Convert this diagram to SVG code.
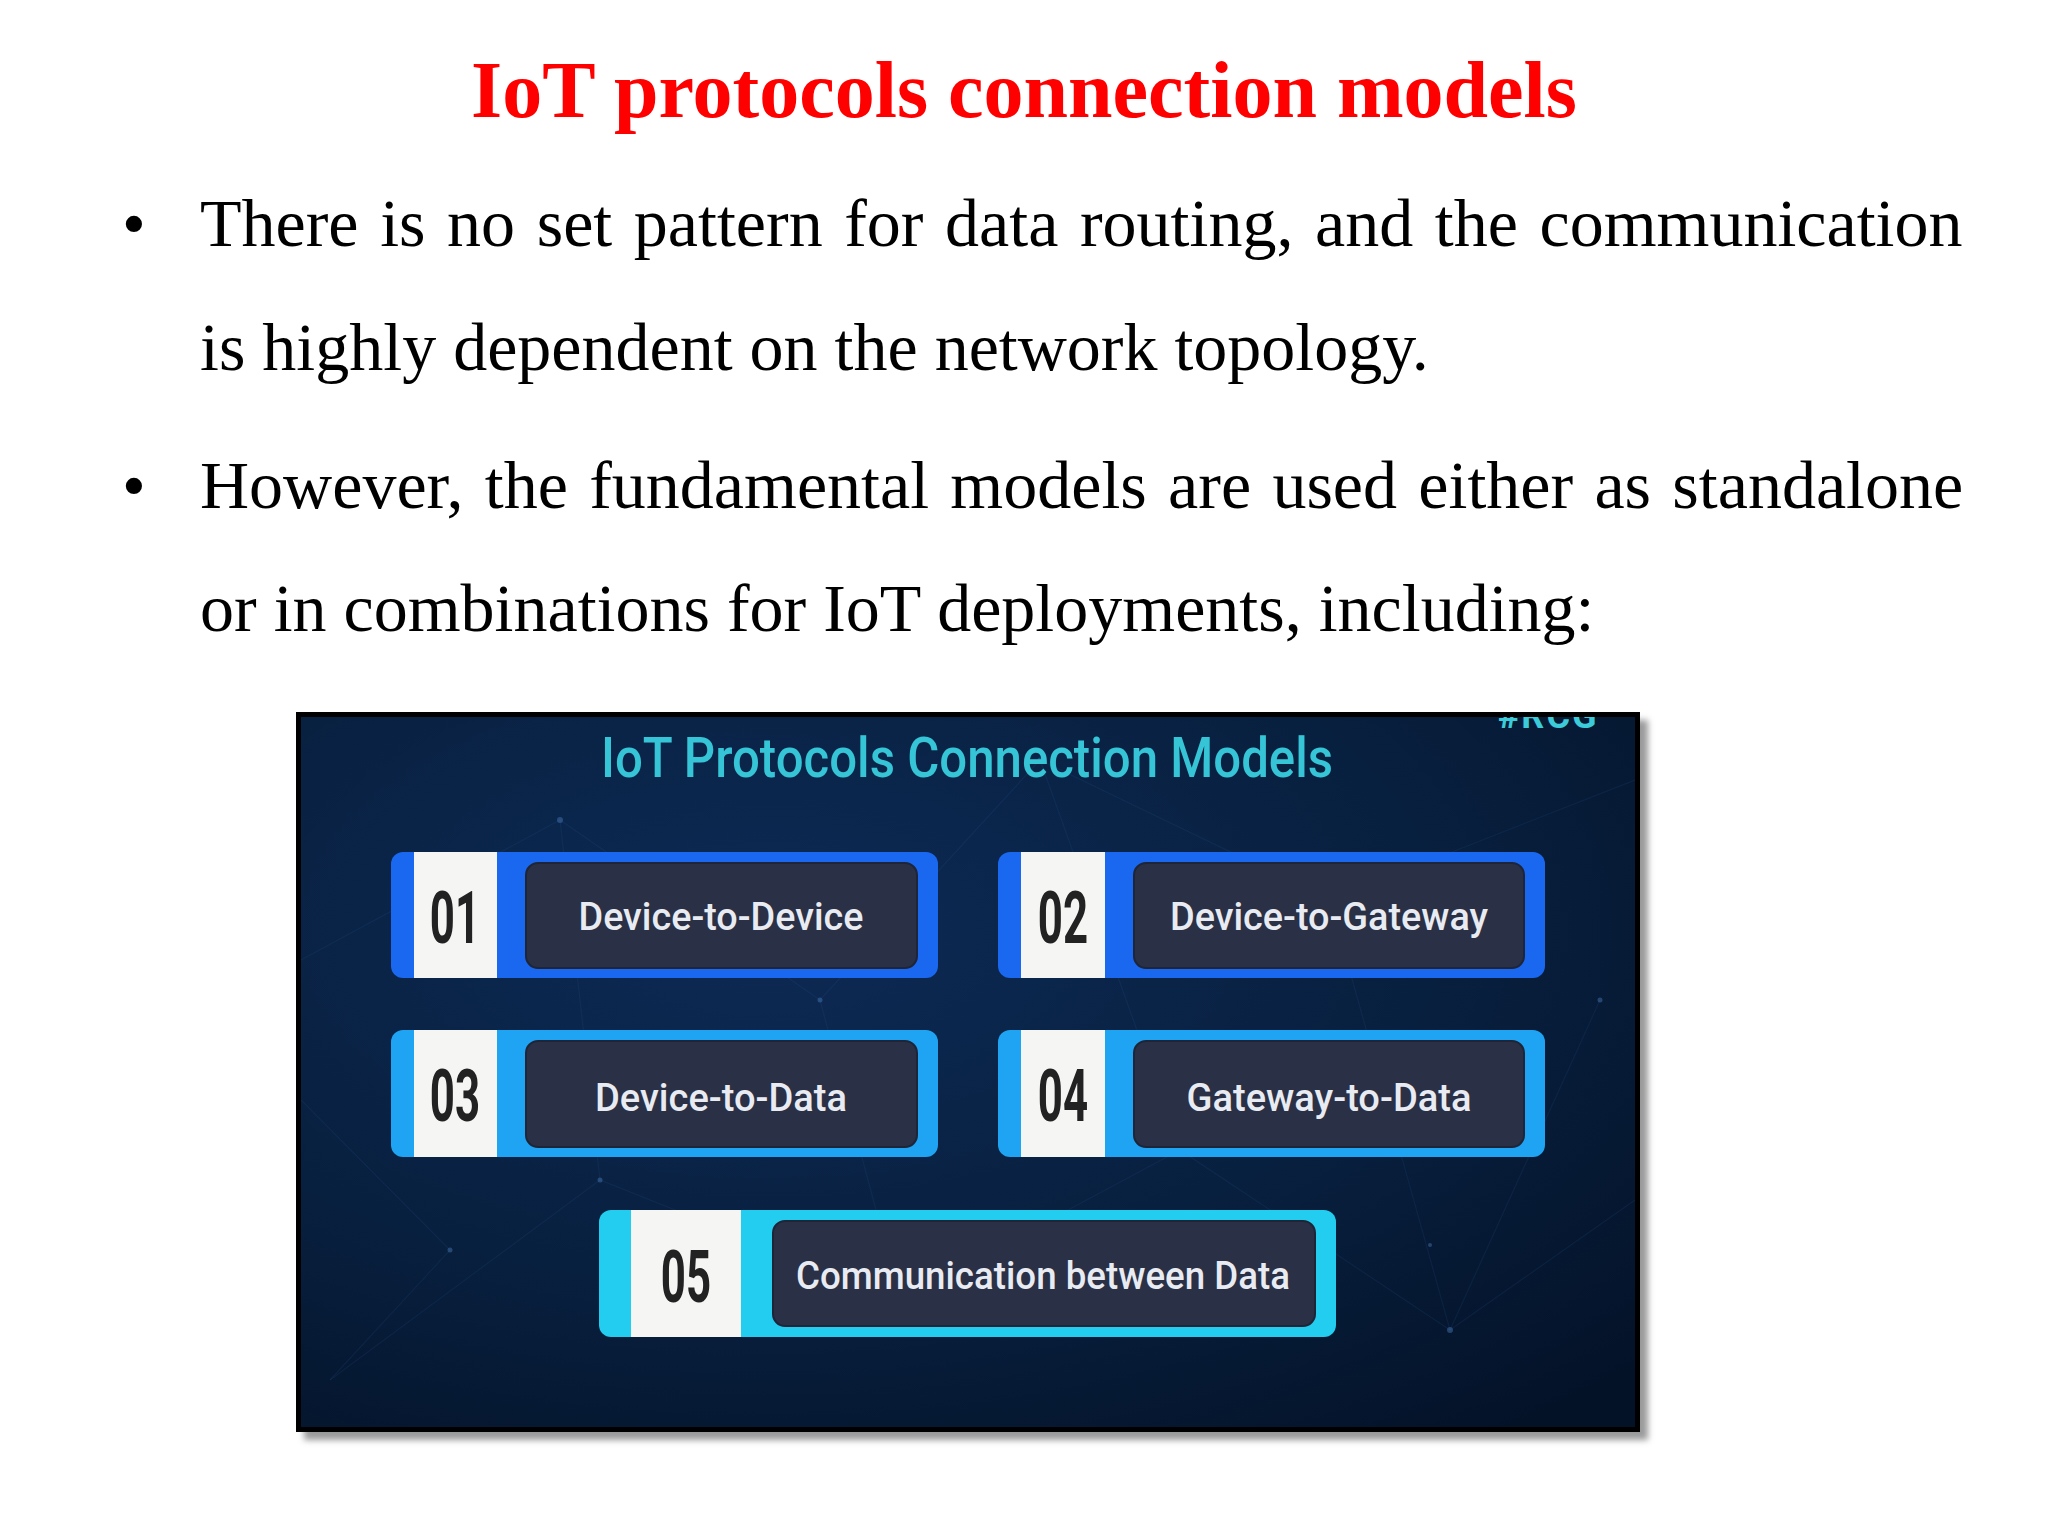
<svg xmlns="http://www.w3.org/2000/svg" width="2048" height="1536" viewBox="0 0 2048 1536">
  <style>
    .title { font-family: "Liberation Serif", "Times New Roman", serif; font-weight: bold; font-size: 80px; fill: #FF0000; }
    .body { font-family: "Liberation Serif", "Times New Roman", serif; font-size: 68px; fill: #000; }
    .ptitle { font-family: Roboto, "Liberation Sans", sans-serif; font-weight: 500; font-size: 56px; fill: #35c5d7; }
    .num { font-family: Roboto, "Liberation Sans", sans-serif; font-weight: 700; font-size: 73px; fill: #222; }
    .lbl { font-family: Roboto, "Liberation Sans", sans-serif; font-weight: 500; font-size: 39px; fill: #e8ebf1; }
    .white { fill: #f5f5f3; }
    .inner { fill: #2a3045; stroke: #1f2538; stroke-width: 2; }
    .net { stroke: #2d5590; stroke-width: 1.2; opacity: 0.16; fill: none; }
    .dot { fill: #4a7ab8; opacity: 0.45; }
  </style>
  <defs>
    <radialGradient id="bg" cx="0.35" cy="0.3" r="0.9">
      <stop offset="0" stop-color="#0d2a55"/>
      <stop offset="0.55" stop-color="#08203f"/>
      <stop offset="1" stop-color="#041228"/>
    </radialGradient>
    <filter id="sh" x="-5%" y="-5%" width="110%" height="110%">
      <feGaussianBlur stdDeviation="3"/>
    </filter>
    <clipPath id="panelClip">
      <rect x="301" y="717" width="1334" height="710"/>
    </clipPath>
    <clipPath id="tagClip">
      <rect x="1480" y="717" width="140" height="14"/>
    </clipPath>
  </defs>

  <rect width="2048" height="1536" fill="#ffffff"/>

  <!-- Heading and bullets -->
  <g id="heading">
    <text class="title" x="1024" y="117" text-anchor="middle">IoT protocols connection models</text>
  </g>
  <g id="bullets">
    <text class="body" x="122" y="246">•</text>
    <text class="body" x="200" y="246" word-spacing="4.6">There is no set pattern for data routing, and the communication</text>
    <text class="body" x="200" y="370">is highly dependent on the network topology.</text>
    <text class="body" x="122" y="508">•</text>
    <text class="body" x="200" y="508" word-spacing="4.3">However, the fundamental models are used either as standalone</text>
    <text class="body" x="200" y="631">or in combinations for IoT deployments, including:</text>
  </g>

  <!-- Picture panel -->
  <g id="panel">
    <rect x="304" y="720" width="1344" height="720" fill="#9a9a9a" filter="url(#sh)"/>
    <rect x="296" y="712" width="1344" height="720" fill="#000"/>
    <rect x="301" y="717" width="1334" height="710" fill="url(#bg)"/>
    <g clip-path="url(#panelClip)">
      <path class="net" d="M301 960 L560 820 L820 1000 L1040 760 L1330 900 L1635 780"/>
      <path class="net" d="M330 1380 L600 1180 L900 1300 L1180 1150 L1450 1330 L1635 1200"/>
      <path class="net" d="M560 820 L600 1180 M820 1000 L900 1300 M1040 760 L1180 1150 M1330 900 L1450 1330"/>
      <path class="net" d="M301 1100 L450 1250 L330 1380 M1600 1000 L1450 1330"/>
      <circle class="dot" cx="560" cy="820" r="3"/>
      <circle class="dot" cx="820" cy="1000" r="2.5"/>
      <circle class="dot" cx="1040" cy="760" r="2.5"/>
      <circle class="dot" cx="1330" cy="900" r="3"/>
      <circle class="dot" cx="600" cy="1180" r="2.5"/>
      <circle class="dot" cx="900" cy="1300" r="2"/>
      <circle class="dot" cx="1180" cy="1150" r="2.5"/>
      <circle class="dot" cx="1450" cy="1330" r="3"/>
      <circle class="dot" cx="450" cy="1250" r="2.5"/>
      <circle class="dot" cx="1600" cy="1000" r="2.5"/>
      <circle class="dot" cx="1430" cy="1245" r="2"/>
      <circle class="dot" cx="420" cy="1035" r="2"/>
      <text x="1498" y="728" clip-path="url(#tagClip)" font-family="Roboto, 'Liberation Sans', sans-serif" font-weight="700" font-size="36" letter-spacing="2" fill="#3ccbd8">#RCG</text>
    </g>
    <text class="ptitle" x="967" y="777" text-anchor="middle" textLength="732" lengthAdjust="spacingAndGlyphs">IoT Protocols Connection Models</text>
  </g>

  <g id="connectors"/>

  <g id="node-01">
    <rect x="391" y="852" width="547" height="126" rx="12" fill="#1a68f0"/>
    <rect class="white" x="414" y="852" width="83" height="126"/>
    <rect class="inner" x="526" y="863" width="391" height="105" rx="12"/>
    <text class="num" transform="translate(455,943) scale(0.6,1)" text-anchor="middle">01</text>
    <text class="lbl" x="721" y="930" text-anchor="middle" textLength="285" lengthAdjust="spacingAndGlyphs">Device-to-Device</text>
  </g>

  <g id="node-02">
    <rect x="998" y="852" width="547" height="126" rx="12" fill="#1a68f0"/>
    <rect class="white" x="1021" y="852" width="84" height="126"/>
    <rect class="inner" x="1134" y="863" width="390" height="105" rx="12"/>
    <text class="num" transform="translate(1063,943) scale(0.6,1)" text-anchor="middle">02</text>
    <text class="lbl" x="1329" y="930" text-anchor="middle" textLength="318" lengthAdjust="spacingAndGlyphs">Device-to-Gateway</text>
  </g>

  <g id="node-03">
    <rect x="391" y="1030" width="547" height="127" rx="12" fill="#1ea4f2"/>
    <rect class="white" x="414" y="1030" width="83" height="127"/>
    <rect class="inner" x="526" y="1041" width="391" height="106" rx="12"/>
    <text class="num" transform="translate(455,1121) scale(0.6,1)" text-anchor="middle">03</text>
    <text class="lbl" x="721" y="1111" text-anchor="middle" textLength="252" lengthAdjust="spacingAndGlyphs">Device-to-Data</text>
  </g>

  <g id="node-04">
    <rect x="998" y="1030" width="547" height="127" rx="12" fill="#1ea4f2"/>
    <rect class="white" x="1021" y="1030" width="84" height="127"/>
    <rect class="inner" x="1134" y="1041" width="390" height="106" rx="12"/>
    <text class="num" transform="translate(1063,1121) scale(0.6,1)" text-anchor="middle">04</text>
    <text class="lbl" x="1329" y="1111" text-anchor="middle" textLength="285" lengthAdjust="spacingAndGlyphs">Gateway-to-Data</text>
  </g>

  <g id="node-05">
    <rect x="599" y="1210" width="737" height="127" rx="12" fill="#22cdef"/>
    <rect class="white" x="631" y="1210" width="110" height="127"/>
    <rect class="inner" x="773" y="1221" width="542" height="105" rx="12"/>
    <text class="num" transform="translate(686,1302) scale(0.6,1)" text-anchor="middle">05</text>
    <text class="lbl" x="1043" y="1289" text-anchor="middle" textLength="494" lengthAdjust="spacingAndGlyphs">Communication between Data</text>
  </g>
</svg>
